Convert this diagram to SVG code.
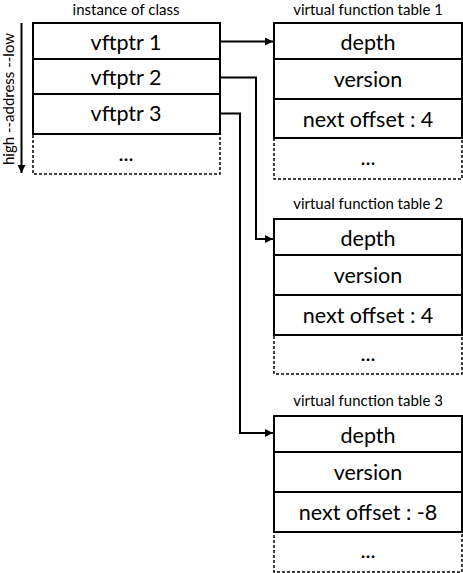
<svg xmlns="http://www.w3.org/2000/svg" width="463" height="573" viewBox="0 0 463 573">
<style>
.cell{fill:#fff;stroke:#000;stroke-width:2}
.dash{fill:#fff;stroke:#000;stroke-width:1.5;stroke-dasharray:3 2}
.t{font-family:Lato,"Liberation Sans",sans-serif;font-size:21.5px;text-anchor:middle;dominant-baseline:central;fill:#000}
.h{font-family:Lato,"Liberation Sans",sans-serif;font-size:15px;text-anchor:middle;fill:#000}
.c{fill:none;stroke:#000;stroke-width:2}
</style>
<defs>
<marker id="ah" viewBox="0 0 10 10" refX="10" refY="5" markerWidth="4" markerHeight="4" orient="auto" markerUnits="strokeWidth">
<path d="M0,0 L10,5 L0,10 z" fill="#000"/>
</marker>
</defs>
<rect width="463" height="573" fill="#fff"/>

<g id="instance">
<text class="h" x="126" y="15">instance of class</text>
<rect class="dash" x="33" y="134" width="187" height="40"/>
<rect class="cell" x="33" y="23" width="187" height="36"/>
<rect class="cell" x="33" y="59" width="187" height="35"/>
<rect class="cell" x="33" y="94" width="187" height="40"/>
<text class="t" x="126" y="42">vftptr 1</text>
<text class="t" x="126" y="77">vftptr 2</text>
<text class="t" x="126" y="113">vftptr 3</text>
<text class="t" x="126" y="153">...</text>
</g>

<g id="address-axis">
<line x1="21.5" y1="23" x2="21.5" y2="173" stroke="#000" stroke-width="2" marker-end="url(#ah)"/>
<text class="h" font-size="15.5" transform="translate(14,99) rotate(-90)">high --address --low</text>
</g>

<g id="vft1">
<text class="h" x="368" y="15">virtual function table 1</text>
<rect class="dash" x="274" y="138" width="188" height="41"/>
<rect class="cell" x="274" y="23" width="188" height="36"/>
<rect class="cell" x="274" y="59" width="188" height="40"/>
<rect class="cell" x="274" y="99" width="188" height="39"/>
<text class="t" x="368" y="42">depth</text>
<text class="t" x="368" y="79">version</text>
<text class="t" x="368" y="119">next offset : 4</text>
<text class="t" x="368" y="157">...</text>
</g>

<g id="vft2">
<text class="h" x="368" y="209">virtual function table 2</text>
<rect class="dash" x="274" y="335" width="188" height="39"/>
<rect class="cell" x="274" y="219" width="188" height="36"/>
<rect class="cell" x="274" y="255" width="188" height="40"/>
<rect class="cell" x="274" y="295" width="188" height="40"/>
<text class="t" x="368" y="238">depth</text>
<text class="t" x="368" y="275">version</text>
<text class="t" x="368" y="315">next offset : 4</text>
<text class="t" x="368" y="353">...</text>
</g>

<g id="vft3">
<text class="h" x="368" y="406">virtual function table 3</text>
<rect class="dash" x="274" y="532" width="188" height="40"/>
<rect class="cell" x="274" y="416" width="188" height="36"/>
<rect class="cell" x="274" y="452" width="188" height="40"/>
<rect class="cell" x="274" y="492" width="188" height="40"/>
<text class="t" x="368" y="435">depth</text>
<text class="t" x="368" y="472">version</text>
<text class="t" x="368" y="512">next offset : -8</text>
<text class="t" x="368" y="550">...</text>
</g>

<g id="connectors">
<path class="c" d="M220,41.5 H273" marker-end="url(#ah)"/>
<path class="c" d="M220,77.5 H256 V239 H273" marker-end="url(#ah)"/>
<path class="c" d="M220,113.5 H240 V433 H273" marker-end="url(#ah)"/>
</g>
</svg>
